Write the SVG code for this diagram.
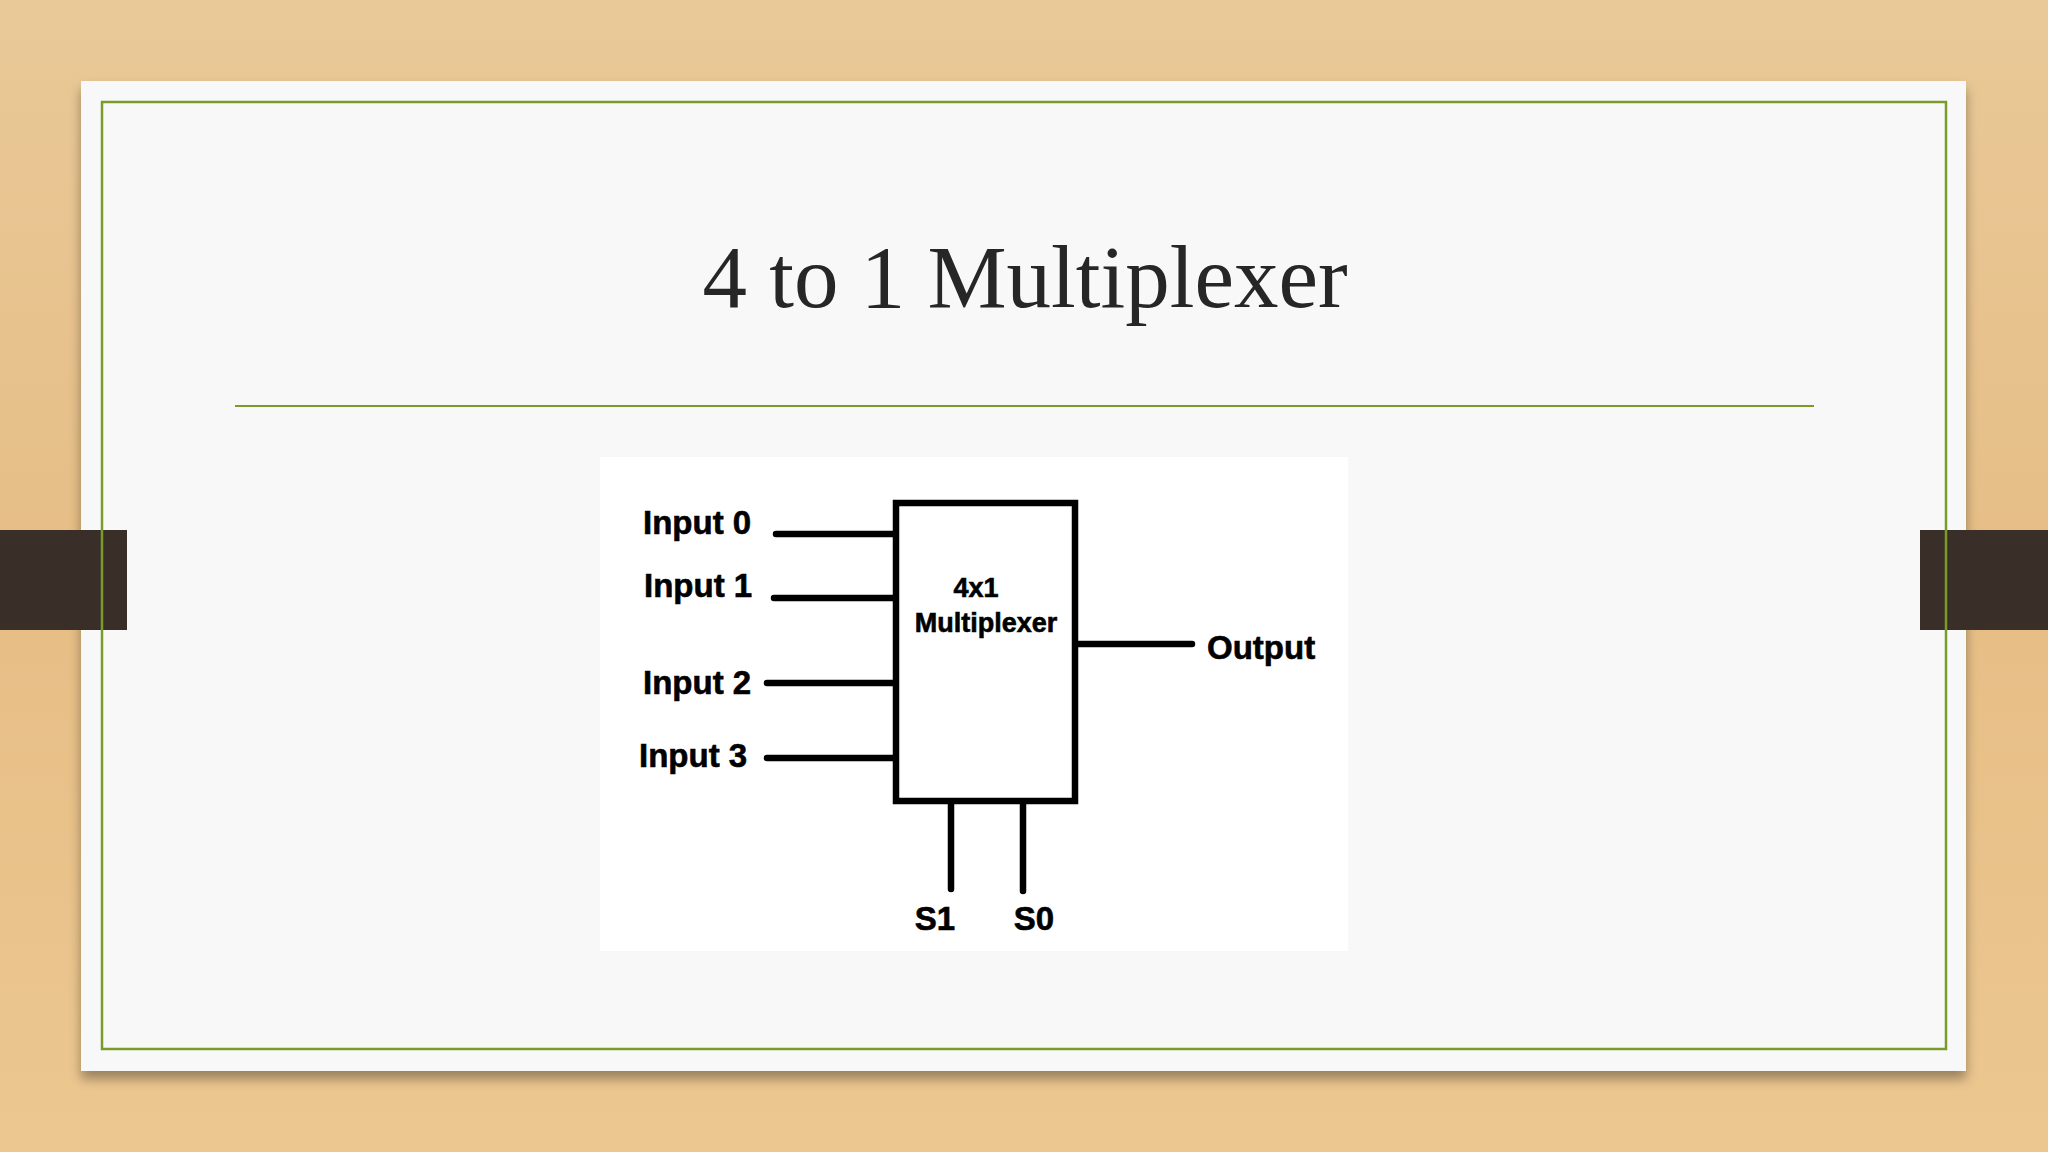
<svg xmlns="http://www.w3.org/2000/svg" width="2048" height="1152" viewBox="0 0 2048 1152">
<defs>
<linearGradient id="wood" x1="0" y1="0" x2="0" y2="1">
<stop offset="0" stop-color="#e9c998"/><stop offset="0.5" stop-color="#e6bd85"/><stop offset="1" stop-color="#ecc790"/>
</linearGradient>
<filter id="sh" x="-5%" y="-5%" width="110%" height="115%"><feDropShadow dx="0" dy="8" stdDeviation="6" flood-color="#000" flood-opacity="0.35"/></filter>
<style>
.lbl{font-family:"Liberation Sans",Arial,sans-serif;font-weight:bold;font-size:33px;fill:#000;stroke:#000;stroke-width:0.6}
.w{stroke:#000;stroke-width:6.5;stroke-linecap:round;fill:none}
</style>
</defs>
<rect width="2048" height="1152" fill="url(#wood)"/>
<rect x="81" y="81" width="1885" height="990" fill="#f8f8f8" filter="url(#sh)"/>
<rect x="0" y="530" width="127" height="100" fill="#3a2f28"/>
<rect x="1920" y="530" width="128" height="100" fill="#3a2f28"/>
<rect x="102" y="102" width="1844" height="947" fill="none" stroke="#7a9a2a" stroke-width="2.5"/>
<text x="1025" y="307" text-anchor="middle" font-family="Liberation Serif,serif" font-size="89" fill="#262626">4 to 1 Multiplexer</text>
<line x1="235" y1="406" x2="1814" y2="406" stroke="#7a9a2a" stroke-width="2"/>
<rect x="600" y="457" width="748" height="494" fill="#ffffff"/>
<g id="connectors">
<line class="w" x1="776" y1="534" x2="896" y2="534"/>
<line class="w" x1="774" y1="598" x2="896" y2="598"/>
<line class="w" x1="767" y1="683" x2="896" y2="683"/>
<line class="w" x1="767" y1="758" x2="896" y2="758"/>
<line class="w" x1="1075" y1="644" x2="1192" y2="644"/>
<line class="w" x1="951" y1="801" x2="951" y2="889"/>
<line class="w" x1="1023" y1="801" x2="1023" y2="891"/>
</g>
<g id="mux">
<rect x="896" y="503" width="179" height="298" fill="#fff" stroke="#000" stroke-width="6.5"/>
<text x="976" y="597" text-anchor="middle" class="lbl" style="font-size:27px">4x1</text>
<text x="986" y="632" text-anchor="middle" class="lbl" style="font-size:27px">Multiplexer</text>
</g>
<g id="in0"><text class="lbl" x="643" y="534">Input 0</text></g>
<g id="in1"><text class="lbl" x="644" y="597">Input 1</text></g>
<g id="in2"><text class="lbl" x="643" y="694">Input 2</text></g>
<g id="in3"><text class="lbl" x="639" y="767">Input 3</text></g>
<g id="out"><text class="lbl" x="1207" y="659">Output</text></g>
<g id="s1"><text class="lbl" x="935" y="930" text-anchor="middle">S1</text></g>
<g id="s0"><text class="lbl" x="1034" y="930" text-anchor="middle">S0</text></g>
</svg>
